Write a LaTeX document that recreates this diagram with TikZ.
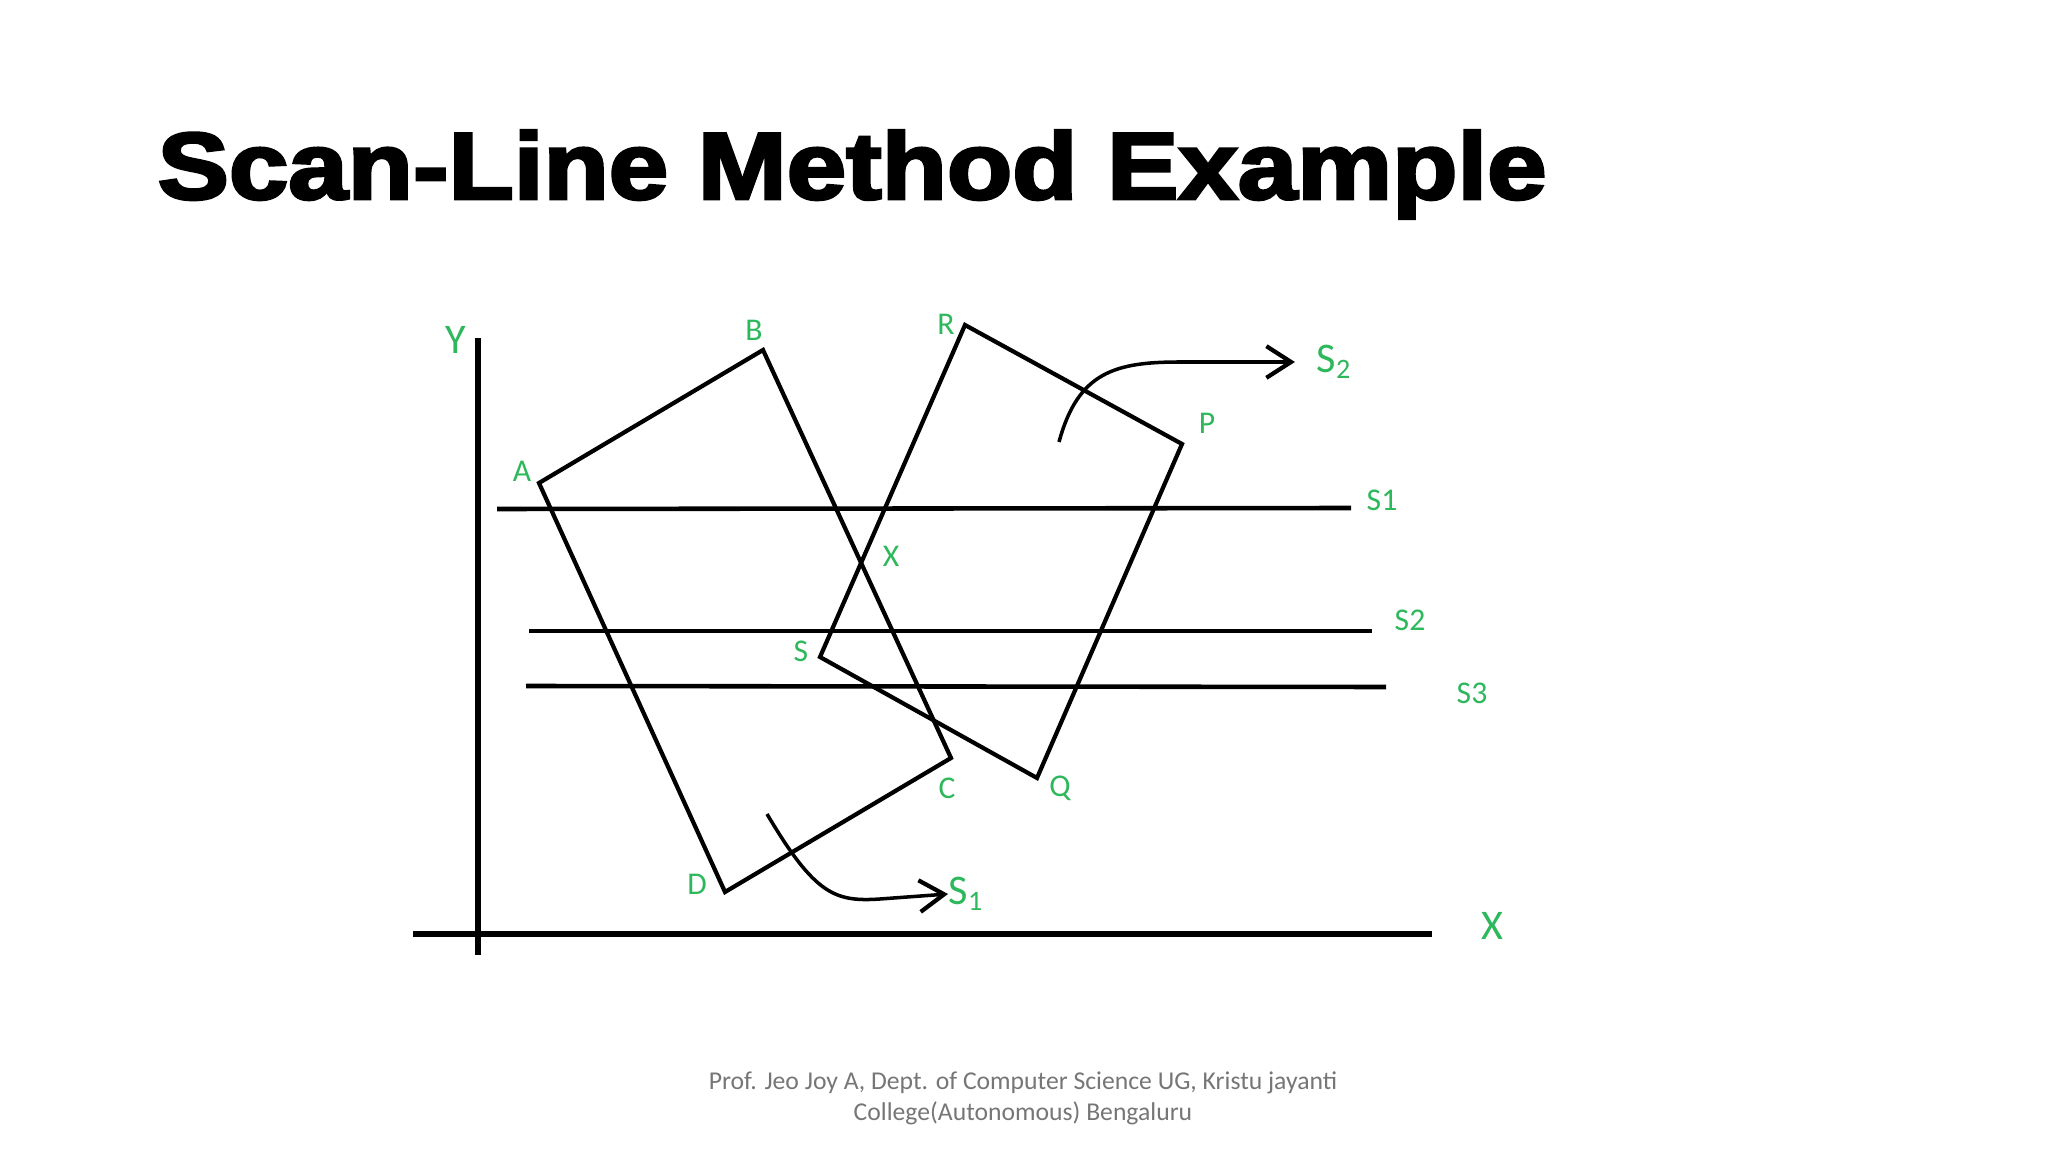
\documentclass[tikz,border=0pt]{standalone}
\usepackage{fontspec}
\setmainfont{Carlito}
\newfontfamily\titlefont{Liberation Sans}[BoldFeatures={FakeBold=3}]
\usetikzlibrary{arrows.meta}
\definecolor{lblgreen}{RGB}{46,184,92}
\definecolor{footgray}{RGB}{118,118,118}
\tikzset{poly/.style={line width=1.2pt, line join=miter},
        scan/.style={line width=1.3pt},
        axis/.style={line width=1.5pt},
        lbl/.style={text=lblgreen, font=\fontsize{9}{10}\selectfont, inner sep=0pt},
        bigl/.style={text=lblgreen, font=\fontsize{12}{13}\selectfont, inner sep=0pt},
        curvearrow/.style={line width=1pt, -{Straight Barb[length=7pt,width=9pt,line width=1.2pt]}},
        }

\begin{document}
\begin{tikzpicture}[x=0.01cm, y=-0.01cm]
    \useasboundingbox[fill=white] (0,0) rectangle (2048,1152);

    \node[anchor=base west, inner sep=0pt, font=\titlefont\bfseries\fontsize{27}{30}\selectfont] (title) at (157,199) {\scalebox{1.125}[1]{Scan-Line Method Example}};

    % axes
    \coordinate (ytop) at (478,338);
    \coordinate (ybot) at (478,955);
    \coordinate (xl) at (413,934);
    \coordinate (xr) at (1432,934);
    \draw[axis] (ytop) -- (ybot);
    \draw[axis] (xl) -- (xr);
    \node[bigl] (ylab) at (456,340) {Y};
    \node[bigl] (xlab) at (1492,926) {X};

    % polygon ABCD
    \coordinate (A) at (539,483);
    \coordinate (B) at (763,350);
    \coordinate (C) at (951,758);
    \coordinate (D) at (725,892);
    \draw[poly] (A) -- (B) -- (C) -- (D) -- cycle;
    \node[lbl] (lA) at (522,471) {A};
    \node[lbl] (lB) at (754,330) {B};
    \node[lbl] (lC) at (947,788) {C};
    \node[lbl] (lD) at (697,884) {D};

    % polygon PQRS
    \coordinate (R) at (965,325);
    \coordinate (P) at (1182,444);
    \coordinate (Q) at (1037,778);
    \coordinate (S) at (820,657);
    \draw[poly] (R) -- (P) -- (Q) -- (S) -- cycle;
    \node[lbl] (lR) at (946,324) {R};
    \node[lbl] (lP) at (1207,423) {P};
    \node[lbl] (lQ) at (1060,788) {Q};
    \node[lbl] (lS) at (801,651) {S};
    \node[lbl] (lX) at (891,556) {X};

    % scan lines
    \coordinate (s1l) at (497,509);
    \coordinate (s1r) at (1351,508);
    \coordinate (s2l) at (529,631);
    \coordinate (s2r) at (1372,631);
    \coordinate (s3l) at (526,686);
    \coordinate (s3r) at (1386,687);
    \draw[scan] (s1l) -- (s1r);
    \draw[scan] (s2l) -- (s2r);
    \draw[scan] (s3l) -- (s3r);
    \node[lbl] (ls1) at (1382,500) {S1};
    \node[lbl] (ls2) at (1410,620) {S2};
    \node[lbl] (ls3) at (1472,693) {S3};

    % surface arrows
    \coordinate (a1) at (767,814);
    \coordinate (a2) at (1059,442);
    \node[bigl, anchor=west] (sa1) at (948,894) {S\textsubscript{1}};
    \node[bigl, anchor=west] (sa2) at (1316,362) {S\textsubscript{2}};
    \draw[curvearrow] (a1) .. controls (815,895) and (835,902) .. (880,899) -- (sa1.west);
    \draw[curvearrow] (a2) .. controls (1078,372) and (1115,362) .. (1180,362) -- ([xshift=-6pt]sa2.west);

    \node[align=center, text=footgray, font=\fontsize{7.3}{8.8}\selectfont] (foot) at (1023,1098) {Prof. Jeo Joy A, Dept. of Computer Science UG, Kristu jayanti\\College(Autonomous) Bengaluru};
\end{tikzpicture}
\end{document}
